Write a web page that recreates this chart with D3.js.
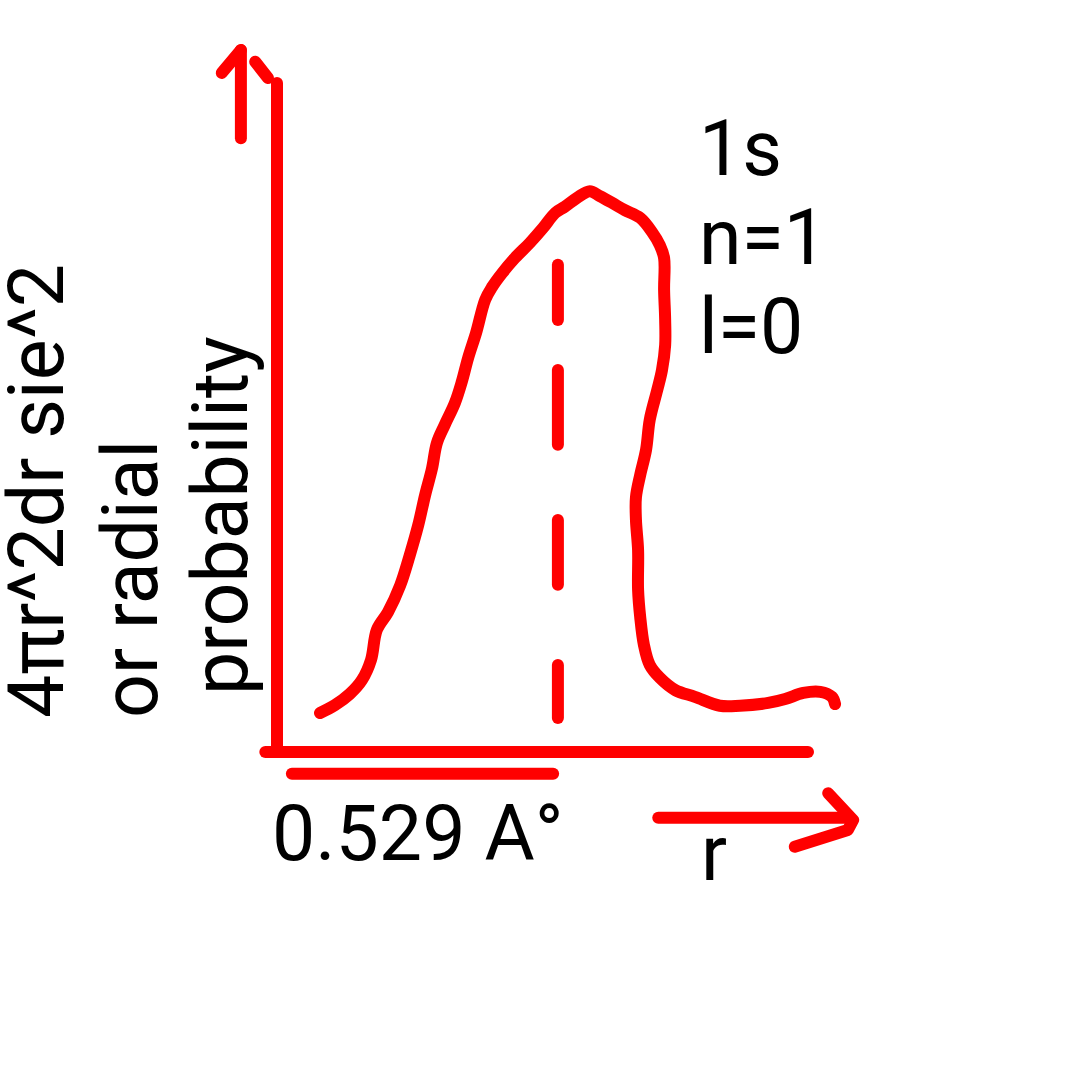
<!DOCTYPE html>
<html>
<head>
<meta charset="utf-8">
<script src="https://cdn.jsdelivr.net/npm/d3@7"></script>
<style>
    body { margin: 0; background: #fff; }
    text { font-family: Roboto, "Noto Sans", sans-serif; fill: #000; }
</style>
</head>
<body>
<svg id="mySvg" width="1080" height="1080"></svg>
<script>
// radial probability curve, hand traced: r in angstrom, p relative to peak
const curveR = [0.081, 0.109, 0.137, 0.160, 0.177, 0.188, 0.209, 0.232, 0.250, 0.266, 0.279, 0.292, 0.301,
    0.316, 0.335, 0.348, 0.360, 0.375, 0.392, 0.405, 0.424, 0.448, 0.476, 0.501, 0.524, 0.542, 0.565, 0.589,
    0.608, 0.631, 0.655, 0.684, 0.706, 0.721, 0.729, 0.729, 0.731, 0.731, 0.725, 0.716, 0.702, 0.695, 0.684,
    0.676, 0.676, 0.680, 0.680, 0.684, 0.691, 0.702, 0.721, 0.750, 0.787, 0.834, 0.872, 0.925, 0.957, 0.991,
    1.023, 1.045, 1.051];
const curveP = [0.070, 0.084, 0.104, 0.129, 0.165, 0.219, 0.251, 0.299, 0.353, 0.407, 0.461, 0.509, 0.554,
    0.587, 0.626, 0.664, 0.707, 0.752, 0.811, 0.834, 0.859, 0.886, 0.913, 0.940, 0.967, 0.978, 0.994, 1.006,
    0.997, 0.985, 0.972, 0.958, 0.933, 0.909, 0.886, 0.829, 0.775, 0.730, 0.685, 0.649, 0.596, 0.542, 0.497,
    0.457, 0.416, 0.362, 0.291, 0.242, 0.192, 0.156, 0.133, 0.111, 0.099, 0.083, 0.083, 0.088, 0.095, 0.106,
    0.108, 0.099, 0.086];

// most probable radius and its dashed marker
const bohrRadius = 0.529;
const dashSegments = [[0.874, 0.775], [0.685, 0.551], [0.416, 0.300], [0.156, 0.061]];

// hand drawn axes and arrows, [r, p] pairs
const yAxisLine = [[0, 0], [0, 1.20]];
const xAxisLine = [[-0.022, 0], [1.0, 0]];
const radiusBar = [[0.028, -0.039], [0.520, -0.039]];
const upArrow = [[[-0.068, 1.101], [-0.068, 1.259]], [[-0.104, 1.218], [-0.068, 1.259]], [[-0.041, 1.238], [-0.017, 1.209]]];
const rightArrow = [[[0.718, -0.118], [1.073, -0.118]], [[1.038, -0.074], [1.085, -0.122], [1.075, -0.140], [0.975, -0.170]]];

const yLabelLines = ["4πr^2dr sie^2", "or radial", "probability"];
const orbitalLines = ["1s", "n=1", "l=0"];
const radiusLabel = "0.529 A°";
const xLabel = "r";

const red = "#ff0000";
const fontSize = 77;

var svg = d3.select("#mySvg");

var x = d3.scaleLinear().domain([0, 1]).range([277, 808]);
var y = d3.scaleLinear().domain([0, 1.2]).range([752, 83]);

var line = d3.line()
    .x(d => x(d[0]))
    .y(d => y(d[1]));

function stroke(points, width, curve) {
    svg.append("path")
        .attr("d", line.curve(curve || d3.curveLinear)(points))
        .attr("fill", "none")
        .attr("stroke", red)
        .attr("stroke-width", width)
        .attr("stroke-linecap", "round")
        .attr("stroke-linejoin", "round");
}

// axes
stroke(yAxisLine, 12);
stroke(xAxisLine, 12);
stroke(radiusBar, 12);

// arrows
upArrow.forEach(s => stroke(s, 12));
rightArrow.forEach(s => stroke(s, 12));

// the curve
let curvePoints = curveR.map((r, i) => [r, curveP[i]]);
stroke(curvePoints, 12, d3.curveCatmullRom.alpha(0.5));

// dashed line at r = 0.529
dashSegments.forEach(d => stroke([[bohrRadius, d[0]], [bohrRadius, d[1]]], 12));

// y label, rotated
const yLabelX = [63, 157, 247];
const yLabelStart = [718, 718, 695];
yLabelLines.forEach((t, i) => {
    svg.append("text")
        .attr("transform", `translate(${yLabelX[i]},${yLabelStart[i]}) rotate(-90)`)
        .style("font-size", fontSize + "px")
        .text(t);
});

// orbital info
orbitalLines.forEach((t, i) => {
    svg.append("text")
        .attr("x", 699)
        .attr("y", 175 + i * 89)
        .style("font-size", fontSize + "px")
        .text(t);
});

svg.append("text")
    .attr("x", 272)
    .attr("y", 860)
    .style("font-size", fontSize + "px")
    .text(radiusLabel);

svg.append("text")
    .attr("x", 701)
    .attr("y", 880)
    .style("font-size", fontSize + "px")
    .text(xLabel);
</script>
</body>
</html>
